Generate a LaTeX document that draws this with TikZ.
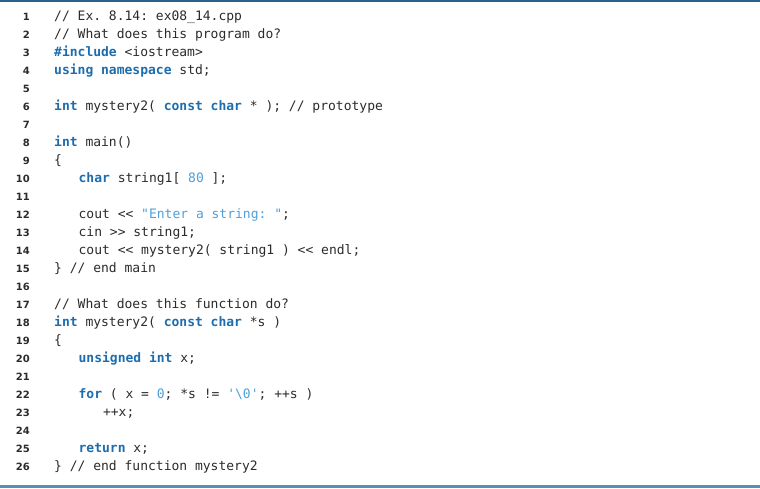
\documentclass[tikz,border=0pt]{standalone}
\usepackage{fontspec}
\setmonofont{DejaVu Sans Mono}
\setsansfont{DejaVu Sans}
\definecolor{kwc}{HTML}{1C6CAE}
\definecolor{litc}{HTML}{4FA0DA}
\definecolor{txt}{HTML}{2B2B2B}
\definecolor{toprule}{HTML}{2E5F8C}
\definecolor{botrule}{HTML}{5A8DB9}
\newcommand{\kw}[1]{{\bfseries\color{kwc}#1}}
\newcommand{\lit}[1]{{\color{litc}#1}}
\newcommand{\q}{\char39}
\tikzset{
 code/.style={anchor=base west,inner sep=0pt,font=\fontsize{13}{15}\ttfamily,text=txt},
 num/.style={anchor=base east,inner sep=0pt,font=\fontsize{10}{12}\sffamily\bfseries,text=txt}
}
\begin{document}
\begin{tikzpicture}[x=1pt,y=1pt]
\useasboundingbox (0,0) rectangle (760,488);
\draw[toprule,line width=2] (0,487) -- (760,487);
\draw[botrule,line width=3] (0,1.5) -- (760,1.5);
\def\ch{8.14}
\foreach \i/\ind/\t in {
1/0/{// Ex. 8.14: ex08\_14.cpp},
2/0/{// What does this program do?},
3/0/{\kw{\#include} <iostream>},
4/0/{\kw{using namespace} std;},
5/0/{},
6/0/{\kw{int} mystery2( \kw{const char} * ); // prototype},
7/0/{},
8/0/{\kw{int} main()},
9/0/{\{},
10/3/{\kw{char} string1[ \lit{80} ];},
11/0/{},
12/3/{cout << \lit{"Enter a string: "};},
13/3/{cin >> string1;},
14/3/{cout << mystery2( string1 ) << endl;},
15/0/{\} // end main},
16/0/{},
17/0/{// What does this function do?},
18/0/{\kw{int} mystery2( \kw{const char} *s )},
19/0/{\{},
20/3/{\kw{unsigned int} x;},
21/0/{},
22/3/{\kw{for} ( x = \lit{0}; *s != \lit{\q\textbackslash 0\q}; ++s )},
23/6/{++x;},
24/0/{},
25/3/{\kw{return} x;},
26/0/{\} // end function mystery2}}
{
 \node[num] (n\i) at (30,{488-21-(\i-1)*17.96}) {\i};
 \node[code] (l\i) at ({54+\ind*\ch},{488-21-(\i-1)*17.96}) {\strut\t};
}
\end{tikzpicture}
\end{document}
